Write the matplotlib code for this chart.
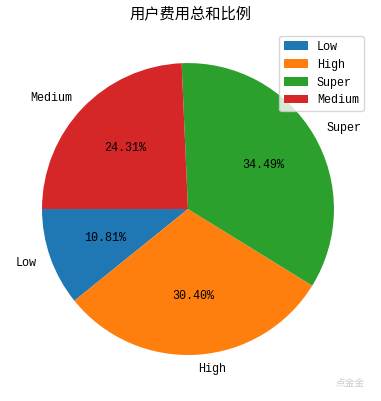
import matplotlib
matplotlib.use("Agg")
import matplotlib.pyplot as plt

plt.rcParams['font.family'] = ['Liberation Mono', 'Noto Sans CJK SC', 'DejaVu Sans']

labels = ['Low', 'High', 'Super', 'Medium']
shares = [10.81, 30.40, 34.49, 24.31]
colors = ['#1f77b4', '#ff7f0e', '#2ca02c', '#d62728']

fig = plt.figure(figsize=(3.81, 4.01), dpi=100)
ax = fig.add_axes([0.0144, 0.0237, 0.958, 0.910])
wedges, texts, autotexts = ax.pie(shares, labels=labels, colors=colors, autopct='%.2f%%',
                                  startangle=180, textprops={'fontsize': 8.5})
ax.set_xlim(-1.25, 1.25)
ax.set_ylim(-1.25, 1.25)
ax.set_aspect('equal')
fig.text(0.5, 0.965, '用户费用总和比例', ha='center', va='center', fontsize=11,
         family=['Noto Sans CJK SC', 'DejaVu Sans'])
ax.legend(wedges, labels, loc='upper right', bbox_to_anchor=(0.97, 0.925),
          bbox_transform=fig.transFigure, fontsize=8.5)
fig.text(0.92, 0.045, '点金金', ha='center', va='center', fontsize=7, color='#cccccc',
         family=['Noto Sans CJK SC', 'DejaVu Sans'])
fig.savefig('out.png', dpi=100)
